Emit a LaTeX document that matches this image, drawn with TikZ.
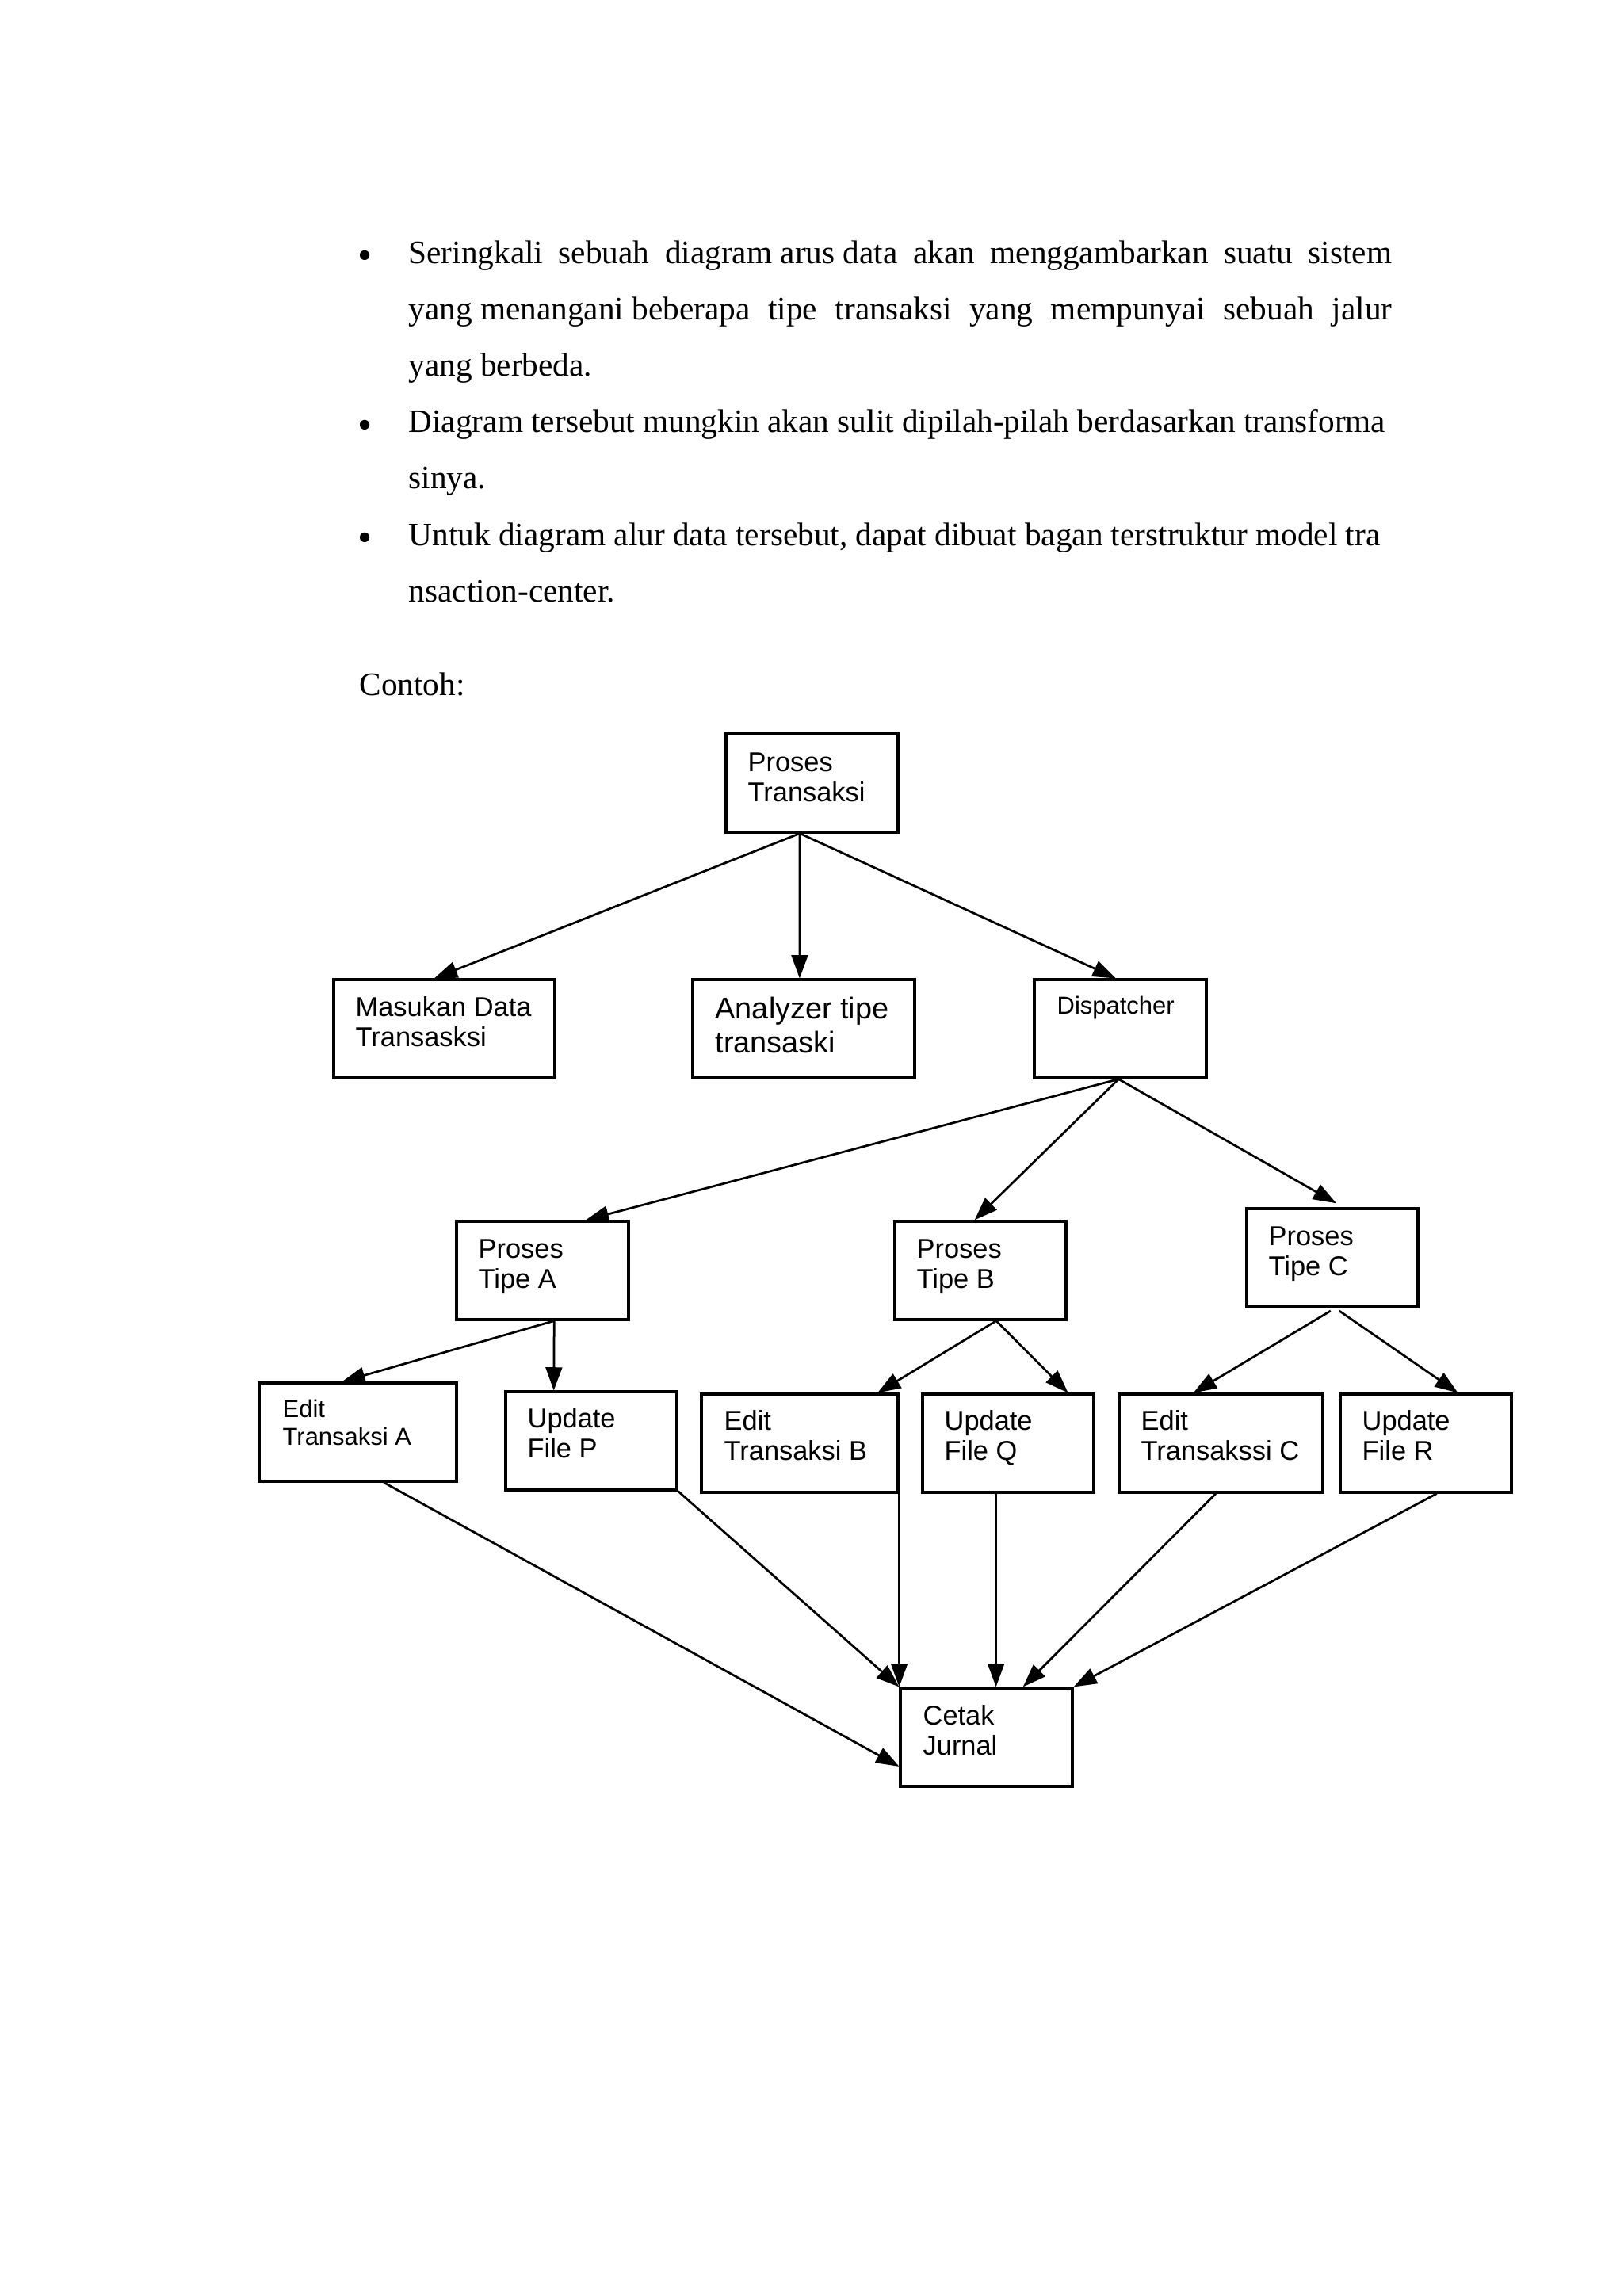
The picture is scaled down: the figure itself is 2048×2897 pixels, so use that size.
\documentclass[tikz,border=0pt]{standalone}
\usepackage{fontspec}
\setmainfont{Liberation Serif}
\newfontfamily\arialf{Liberation Sans}
\usetikzlibrary{arrows.meta,calc,fit}
\newcommand\twol[2]{\begin{tabular}[t]{@{}l@{}}#1\\#2\end{tabular}}
\newcommand\bx[5]{\node[box, fit={(#2,#3) (#4,#5)}] (#1) {};}
\begin{document}
\begin{tikzpicture}[x=0.29067pt,y=-0.29067pt,
  box/.style={draw,line width=0.9pt,inner sep=0pt},
  body/.style={anchor=base west,inner sep=0pt,font=\fontsize{12}{14}\selectfont},
  bul/.style={anchor=center,inner sep=0pt,font=\fontsize{15}{15}\selectfont},
  lbl/.style={anchor=base west,inner sep=0pt,font=\arialf\fontsize{10}{11.3}\selectfont},
  lblsmall/.style={lbl,font=\arialf\fontsize{9}{10.2}\selectfont},
  lblbig/.style={lbl,font=\arialf\fontsize{11}{12.5}\selectfont},
  arr/.style={line width=0.8pt,-{Triangle[length=8.5pt,width=6pt]}}
]
\useasboundingbox (0,0) rectangle (2048,2897);

% ---- body text ----
\node[bul] (b1) at (461,328) {\textbullet};
\node[bul] (b2) at (461,541.5) {\textbullet};
\node[bul] (b3) at (461,684) {\textbullet};
\node[body] (l1) at (515,332) {\makebox[360.6pt][s]{Seringkali sebuah \mbox{diagram arus data} akan menggambarkan suatu sistem}};
\node[body] (l2) at (515,403.5) {\makebox[360.6pt][s]{\mbox{yang menangani beberapa} tipe transaksi yang mempunyai sebuah jalur}};
\node[body] (l3) at (515,474.5) {yang berbeda.};
\node[body] (l4) at (515,545.5) {Diagram tersebut mungkin akan sulit dipilah-pilah berdasarkan transforma};
\node[body] (l5) at (515,616.5) {sinya.};
\node[body] (l6) at (515,688) {Untuk diagram alur data tersebut, dapat dibuat bagan terstruktur model tra};
\node[body] (l7) at (515,759.5) {nsaction-center.};
\node[body] (contoh) at (453,877) {Contoh:};

% ---- boxes ----
\bx{PT}{916}{926}{1133}{1050}
\bx{MD}{421}{1236}{700}{1360}
\bx{AT}{874}{1236}{1154}{1360}
\bx{DI}{1305}{1236}{1522}{1360}
\bx{TA}{576}{1541}{793}{1665}
\bx{TB}{1129}{1541}{1345}{1665}
\bx{TC}{1573}{1525}{1789}{1649}
\bx{EA}{327}{1745}{576}{1869}
\bx{UP}{638}{1756}{854}{1880}
\bx{EB}{885}{1759}{1133}{1883}
\bx{UQ}{1164}{1759}{1380}{1883}
\bx{EC}{1412}{1759}{1669}{1883}
\bx{UR}{1691}{1759}{1907}{1883}
\bx{CJ}{1136}{2130}{1353}{2254}

% ---- box texts ----
\node[lbl] (PTt) at (943,973) {\twol{Proses}{Transaksi}};
\node[lbl] (MDt) at (448,1282) {\twol{Masukan Data}{Transasksi}};
\node[lblbig] (ATt) at (902,1285) {\twol{Analyzer tipe}{transaski}};
\node[lblsmall] (DIt) at (1333,1279) {Dispatcher};
\node[lbl] (TAt) at (603,1587) {\twol{Proses}{Tipe A}};
\node[lbl] (TBt) at (1156,1587) {\twol{Proses}{Tipe B}};
\node[lbl] (TCt) at (1600,1571) {\twol{Proses}{Tipe C}};
\node[lblsmall] (EAt) at (356,1788) {\twol{Edit}{Transaksi A}};
\node[lbl] (UPt) at (665,1801) {\twol{Update}{File P}};
\node[lbl] (EBt) at (913,1804) {\twol{Edit}{Transaksi B}};
\node[lbl] (UQt) at (1191,1804) {\twol{Update}{File Q}};
\node[lbl] (ECt) at (1439,1804) {\twol{Edit}{Transakssi C}};
\node[lbl] (URt) at (1718,1804) {\twol{Update}{File R}};
\node[lbl] (CJt) at (1164,2176) {\twol{Cetak}{Jurnal}};

% ---- connectors ----
\coordinate (PTs) at ($(PT.south west)!0.43!(PT.south east)$);
\draw[arr] (PTs) -- ($(MD.north west)!0.455!(MD.north east)$);
\draw[arr] (PTs) -- ($(AT.north west)!0.482!(AT.north east)$);
\draw[arr] (PTs) -- ($(DI.north west)!0.475!(DI.north east)$);

\coordinate (DIs) at ($(DI.south west)!0.49!(DI.south east)$);
\draw[arr] (DIs) -- ($(TA.north west)!0.747!(TA.north east)$);
\draw[arr] (DIs) -- ($(TB.north west)!0.466!(TB.north east)$);
\draw[arr] (DIs) -- ([yshift=1.5pt]$(TC.north west)!0.523!(TC.north east)$);

\coordinate (TAs) at ($(TA.south west)!0.567!(TA.south east)$);
\draw[arr] (TAs) -- ($(EA.north west)!0.42!(EA.north east)$);
\draw[arr] (TAs) -- ($(UP.north west)!0.284!(UP.north east)$);

\coordinate (TBs) at ($(TB.south west)!0.591!(TB.south east)$);
\draw[arr] (TBs) -- ($(EB.north west)!0.891!(EB.north east)$);
\draw[arr] (TBs) -- ($(UQ.north west)!0.845!(UQ.north east)$);

\draw[arr] ([yshift=-1pt]$(TC.south west)!0.49!(TC.south east)$) -- ($(EC.north west)!0.366!(EC.north east)$);
\draw[arr] ([yshift=-1pt]$(TC.south west)!0.54!(TC.south east)$) -- ($(UR.north west)!0.685!(UR.north east)$);

\draw[arr] ($(EA.south west)!0.63!(EA.south east)$) -- ($(CJ.north west)!0.79!(CJ.south west)$);
\draw[arr] (UP.south east) -- (CJ.north west);
\draw[arr] (EB.south east) -- (EB.south east |- CJ.north);
\coordinate (UQs) at ($(UQ.south west)!0.43!(UQ.south east)$);
\draw[arr] (UQs) -- (UQs |- CJ.north);
\draw[arr] ($(EC.south west)!0.475!(EC.south east)$) -- ($(CJ.north west)!0.71!(CJ.north east)$);
\draw[arr] ($(UR.south west)!0.5625!(UR.south east)$) -- (CJ.north east);
\end{tikzpicture}
\end{document}
